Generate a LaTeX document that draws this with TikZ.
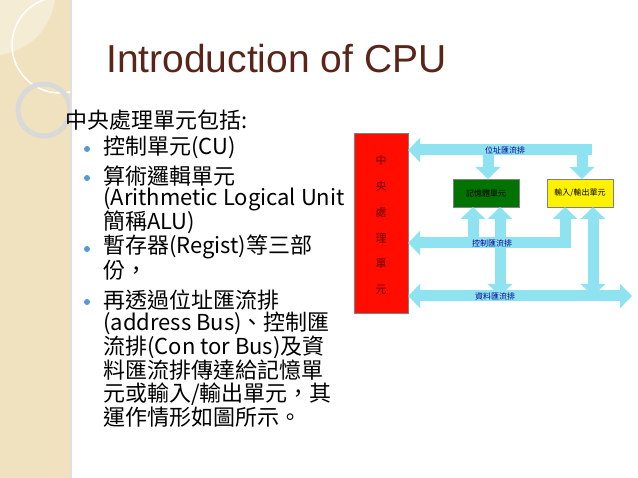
\documentclass[tikz,border=0pt]{standalone}
\usepackage{fontspec}
\setmainfont{Noto Sans CJK TC}
\newfontfamily\latinfont{Liberation Sans}
\usetikzlibrary{arrows.meta,positioning}
\definecolor{titlebrown}{HTML}{5A2418}
\definecolor{busfill}{HTML}{8FE3F0}
\definecolor{panel}{HTML}{F1E2BF}
\tikzset{
  bus/.style={draw=busfill, line width=11pt, {Triangle[width=24pt,length=12pt]}-{Triangle[width=24pt,length=12pt]}},
  busone/.style={draw=busfill, line width=11pt, -{Triangle[width=24pt,length=12pt]}},
  busname/.style={font=\fontsize{8}{9}\selectfont, text=blue!60!black, inner sep=0pt},
  unit/.style={draw=gray, minimum width=66pt, minimum height=28pt, inner sep=0pt, font=\fontsize{8}{9}\selectfont},
  line/.style={anchor=west, inner sep=0pt, font=\fontsize{22}{23}\selectfont},
  dot/.style={circle, fill=cyan!60!blue!70, minimum size=6pt, inner sep=0pt}
}
\begin{document}
\begin{tikzpicture}[x=1pt,y=-1pt]
  \useasboundingbox (0,0) rectangle (638,478);
  %%% BACKGROUND
  \fill[white] (0,0) rectangle (638,478);
  \fill[panel] (0,0) rectangle (70,478);
  \begin{scope}
    \clip (0,0) rectangle (70,478);
    \fill[white, opacity=0.35] (0,0) -- (55,0) .. controls (50,30) and (30,50) .. (0,55) -- cycle;
    \draw[white, line width=1.5pt] (60,45) circle (48);
    \draw[black!15, line width=5pt] (44,110) circle (26);
  \end{scope}
  \fill[black!12] (70,0) rectangle (72,478);
  %%% TITLE
  \node[anchor=base west, inner sep=0pt, text=titlebrown, font=\latinfont\fontsize{39}{40}\selectfont] (title) at (106,73) {Introduction of CPU};
  %%% TEXT
  \node[line] (head) at (65,120) {中央處理單元包括:};
  \foreach \y/\t in {147/控制單元(CU), 176/算術邏輯單元, 199/(Arithmetic Logical Unit, 222/簡稱ALU), 247/暫存器(Regist)等三部, 270/份，, 300/再透過位址匯流排, 323/(address Bus)、控制匯, 347/流排(Con tor Bus)及資, 370/料匯流排傳達給記憶單, 394/{元或輸入/輸出單元，其}, 417/運作情形如圖所示。}
    \node[line] at (103,\y) {\t};
  \foreach \y in {149,178,249,302}
    \node[dot] at (87,\y) {};
  %%% UNITS
  \node[draw=gray, fill=red!90!orange, minimum width=54pt, minimum height=180pt, inner sep=0pt] (cpu) at (381,223) {};
  \foreach \t [count=\i] in {中,央,處,理,單,元}
    \node[text=red!40!black, font=\fontsize{11}{12}\selectfont] at (381,134+\i*26) {\t};
  \node[unit, fill=green!45!black] (mem) at (486,193) {記憶體單元};
  \node[unit, fill=yellow] (io) at (580,193) {輸入/輸出單元};
  %%% BUSES
  \coordinate (addr) at (592,150);
  \coordinate (ctrl) at (570,243);
  \coordinate (data) at (632,296);
  \draw[busone] (addr) -- (cpu.east |- addr);
  \draw[busone] (488,150) -- (488,179);
  \draw[busone] (582,145) -- (582,179);
  \draw[busone] (ctrl) -- (cpu.east |- ctrl);
  \draw[busone] (473,243) -- (473,207);
  \draw[busone] (565,248) -- (565,207);
  \draw[bus] (500,207) -- (500,296);
  \draw[bus] (593,207) -- (593,296);
  \draw[bus] (cpu.east |- data) -- (data);
  \node[busname] at (505,150) {位址匯流排};
  \node[busname] at (492,243) {控制匯流排};
  \node[busname] at (495,296) {資料匯流排};
\end{tikzpicture}
\end{document}
